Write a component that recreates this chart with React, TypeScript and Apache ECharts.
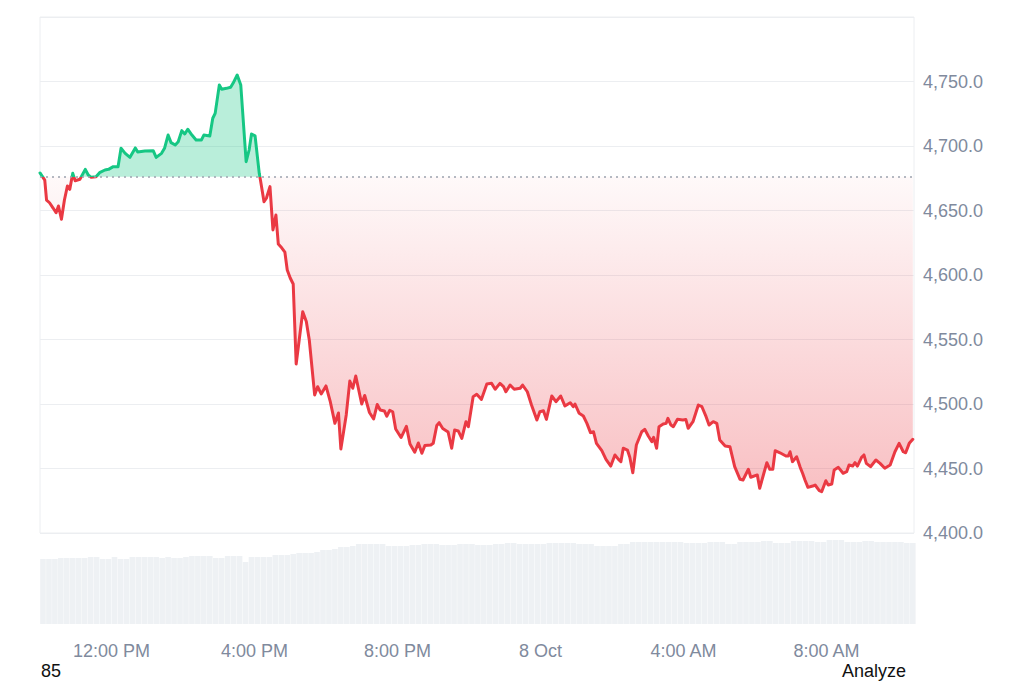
import React, { useEffect, useRef } from "react";
import * as echarts from "echarts";

// minutes since 7 Oct 00:00
const times = [
  600, 608, 611, 616, 622, 627, 631, 636, 641, 646, 650, 655, 659, 667, 670, 676, 681, 686, 694, 700,
  709, 715, 723, 731, 736, 743, 751, 760, 764, 776, 790, 795, 804, 809, 815, 820, 827, 832, 838, 843,
  848, 855, 862, 871, 875, 885, 890, 894, 901, 905, 913, 920, 924, 931, 937, 946, 951, 955, 961, 968,
  970, 976, 980, 986, 991, 996, 1000, 1006, 1011, 1015, 1020, 1025, 1030, 1041, 1047, 1052, 1061, 1066, 1072, 1080,
  1087, 1095, 1101, 1105, 1114, 1120, 1125, 1130, 1140, 1145, 1153, 1160, 1166, 1171, 1178, 1182, 1187, 1192, 1197, 1206,
  1215, 1221, 1229, 1235, 1241, 1246, 1256, 1260, 1266, 1270, 1276, 1285, 1291, 1296, 1302, 1308, 1315, 1319, 1327, 1333,
  1341, 1350, 1358, 1364, 1372, 1378, 1382, 1389, 1396, 1406, 1410, 1418, 1425, 1434, 1439, 1445, 1450, 1459, 1466, 1474,
  1481, 1490, 1495, 1498, 1505, 1512, 1518, 1524, 1529, 1534, 1543, 1550, 1558, 1565, 1571, 1575, 1579, 1586, 1590, 1595,
  1601, 1610, 1615, 1621, 1627, 1630, 1635, 1639, 1646, 1651, 1654, 1659, 1663, 1670, 1679, 1684, 1688, 1696, 1705, 1711,
  1718, 1723, 1730, 1736, 1741, 1750, 1758, 1766, 1775, 1780, 1789, 1793, 1804, 1808, 1815, 1820, 1825, 1830, 1834, 1842,
  1852, 1856, 1859, 1863, 1870, 1876, 1880, 1884, 1889, 1897, 1901, 1908, 1912, 1919, 1923, 1929, 1933, 1940, 1948, 1954,
  1958, 1964, 1968, 1972, 1979, 1983, 1987, 1994, 2003, 2010, 2018, 2027, 2035, 2042, 2049, 2053, 2059, 2065,
];

const prices = [
  4679.1, 4673.6, 4658.1, 4656.0, 4651.9, 4648.3, 4653.5, 4643.2, 4658.1, 4669.0, 4666.4, 4678.8, 4673.1, 4674.2, 4676.7, 4681.9, 4677.5, 4675.7, 4676.2, 4679.3,
  4681.4, 4681.9, 4684.0, 4684.0, 4698.2, 4694.3, 4691.2, 4698.5, 4695.3, 4696.1, 4696.4, 4691.2, 4694.3, 4698.2, 4708.5, 4702.6, 4700.8, 4703.3, 4711.9, 4709.3,
  4713.0, 4708.5, 4704.7, 4704.7, 4708.5, 4707.8, 4721.5, 4725.3, 4747.3, 4744.0, 4744.7, 4745.5, 4748.6, 4755.0, 4747.3, 4687.8, 4696.9, 4709.3, 4707.8, 4678.8,
  4673.6, 4656.8, 4659.5, 4668.5, 4634.9, 4646.5, 4624.0, 4620.9, 4617.8, 4603.9, 4597.7, 4593.0, 4531.0, 4571.5, 4564.0, 4549.6, 4507.0, 4513.4, 4507.8, 4514.0,
  4502.3, 4485.0, 4493.0, 4465.1, 4491.5, 4517.8, 4512.2, 4521.7, 4500.0, 4506.6, 4493.4, 4488.4, 4499.6, 4495.3, 4494.6, 4490.5, 4495.1, 4494.0, 4480.6, 4474.0,
  4482.7, 4469.0, 4462.6, 4469.8, 4461.8, 4467.8, 4468.2, 4469.5, 4483.3, 4485.5, 4481.0, 4478.3, 4465.7, 4479.8, 4479.1, 4473.4, 4486.3, 4482.4, 4505.7, 4507.5,
  4503.6, 4515.5, 4516.0, 4511.4, 4516.0, 4513.4, 4509.5, 4514.7, 4511.4, 4512.2, 4514.7, 4509.5, 4499.2, 4487.6, 4494.0, 4494.8, 4488.1, 4506.2, 4501.8, 4506.2,
  4498.5, 4501.0, 4497.9, 4500.0, 4492.8, 4490.7, 4485.0, 4477.8, 4478.5, 4469.5, 4463.8, 4457.1, 4451.9, 4460.5, 4457.1, 4455.3, 4465.7, 4464.3, 4458.7, 4446.7,
  4468.2, 4478.5, 4480.4, 4475.2, 4470.8, 4474.2, 4465.7, 4482.4, 4484.5, 4485.0, 4488.9, 4483.7, 4482.4, 4488.1, 4487.6, 4488.0, 4481.2, 4486.3, 4499.2, 4497.9,
  4490.2, 4483.7, 4486.3, 4485.0, 4472.1, 4467.4, 4466.9, 4451.4, 4441.6, 4441.1, 4449.4, 4443.2, 4445.0, 4434.7, 4446.3, 4454.5, 4449.4, 4449.4, 4463.8, 4462.2,
  4459.7, 4459.7, 4463.0, 4455.3, 4459.1, 4450.9, 4446.3, 4441.1, 4435.4, 4436.4, 4437.2, 4432.8, 4432.0, 4440.5, 4437.2, 4438.0, 4448.8, 4450.9, 4446.3, 4447.5,
  4452.7, 4451.9, 4454.5, 4451.9, 4458.7, 4460.5, 4454.0, 4451.4, 4456.6, 4454.0, 4450.2, 4452.7, 4463.0, 4469.5, 4463.0, 4462.2, 4469.5, 4472.6,
];

const baseline = 4676.2;

// 10-minute volume bars (arbitrary units)
const volumes = [
  65, 65, 65, 66, 66, 66, 66, 66, 67, 67, 65, 65, 67, 65, 65, 67, 67, 67, 67, 67,
  66, 67, 66, 66, 67, 68, 68, 68, 68, 66, 66, 68, 68, 68, 62, 67, 67, 67, 67, 69,
  69, 69, 70, 71, 71, 71, 72, 74, 74, 75, 77, 77, 78, 80, 80, 80, 80, 80, 78, 78,
  78, 78, 79, 79, 80, 80, 80, 79, 79, 79, 80, 80, 80, 79, 79, 79, 80, 80, 81, 81,
  80, 80, 80, 80, 80, 81, 81, 81, 81, 81, 80, 80, 80, 78, 78, 78, 78, 80, 80, 82,
  82, 82, 82, 82, 82, 82, 82, 82, 81, 81, 81, 81, 82, 82, 82, 80, 80, 82, 82, 82,
  82, 83, 83, 81, 81, 81, 83, 83, 83, 83, 82, 82, 84, 84, 84, 82, 82, 82, 83, 83,
  82, 82, 82, 82, 82, 81, 81,
];

const xTickValues = [720, 960, 1200, 1440, 1680, 1920];
const xTickLabels = ["12:00 PM", "4:00 PM", "8:00 PM", "8 Oct", "4:00 AM", "8:00 AM"];

const timeStart = 600;
const timeEnd = 2067;
const volStep = 10;
const yMin = 4400;
const yMax = 4800;
const yStep = 50;

const GREEN = "#16c784";
const RED = "#ea3943";
const LABEL = "#808a9d";
const GRIDLINE = "#eceef1";
const FONT = "'Liberation Sans', Arial, Helvetica, sans-serif";

export default function App() {
  const ref = useRef<HTMLDivElement>(null);

  useEffect(() => {
    if (!ref.current) return;
    const chart = echarts.init(ref.current, null, { renderer: "svg" });
    const n = Math.min(times.length, prices.length);
    const lineData = [] as number[][];
    const upData = [] as number[][];
    const downData = [] as number[][];
    for (let i = 0; i < n; i++) {
      lineData.push([times[i], prices[i]]);
      upData.push([times[i], Math.max(prices[i], baseline)]);
      downData.push([times[i], Math.min(prices[i], baseline)]);
    }
    const volData = volumes.map((v, i) => [timeStart + volStep * i + volStep / 2, v]);

    chart.setOption({
      animation: false,
      textStyle: { fontFamily: FONT },
      grid: [
        { left: 40, top: 17, width: 874, height: 516, show: true, borderColor: GRIDLINE, borderWidth: 1 },
        { left: 40, top: 533, width: 874, height: 91 },
      ],
      xAxis: [
        {
          type: "value",
          gridIndex: 0,
          min: timeStart,
          max: timeEnd,
          show: false,
        },
        {
          type: "value",
          gridIndex: 1,
          min: timeStart,
          max: timeEnd,
          axisLine: { show: false },
          axisTick: { show: false },
          splitLine: { show: false },
          axisLabel: {
            customValues: xTickValues,
            formatter: (v: number) => {
              const k = xTickValues.indexOf(v);
              return k >= 0 ? xTickLabels[k] : "";
            },
            color: LABEL,
            fontSize: 18,
            fontFamily: FONT,
            margin: 18,
          },
        },
      ],
      yAxis: [
        {
          type: "value",
          gridIndex: 0,
          position: "right",
          min: yMin,
          max: yMax,
          interval: yStep,
          axisLine: { show: false },
          axisTick: { show: false },
          splitLine: { lineStyle: { color: GRIDLINE, width: 1 } },
          axisLabel: {
            showMaxLabel: false,
            color: LABEL,
            fontSize: 18,
            fontFamily: FONT,
            margin: 9,
            formatter: (v: number) =>
              v.toLocaleString("en-US", { minimumFractionDigits: 1, maximumFractionDigits: 1 }),
          },
        },
        {
          type: "value",
          gridIndex: 1,
          min: 0,
          max: 91,
          show: false,
        },
      ],
      visualMap: [
        {
          type: "piecewise",
          show: false,
          seriesIndex: 3,
          dimension: 1,
          pieces: [
            { min: 0, max: baseline, color: RED },
            { min: baseline, max: 100000, color: GREEN },
          ],
        },
      ],
      series: [
        {
          type: "bar",
          xAxisIndex: 1,
          yAxisIndex: 1,
          data: volData,
          barWidth: 5.6,
          itemStyle: { color: "#eef1f4" },
          silent: true,
        },
        {
          type: "line",
          xAxisIndex: 0,
          yAxisIndex: 0,
          data: upData,
          showSymbol: false,
          symbol: "none",
          lineStyle: { width: 0 },
          areaStyle: { origin: baseline, color: "rgba(22,199,132,0.3)", opacity: 1 },
          silent: true,
          z: 2,
        },
        {
          type: "line",
          xAxisIndex: 0,
          yAxisIndex: 0,
          data: downData,
          showSymbol: false,
          symbol: "none",
          lineStyle: { width: 0 },
          areaStyle: {
            origin: baseline,
            opacity: 1,
            color: {
              type: "linear",
              x: 0,
              y: 0,
              x2: 0,
              y2: 1,
              colorStops: [
                { offset: 0, color: "rgba(234,57,67,0.03)" },
                { offset: 1, color: "rgba(234,57,67,0.32)" },
              ],
            },
          },
          silent: true,
          z: 2,
          markLine: {
            silent: true,
            symbol: ["none", "none"],
            label: { show: false },
            lineStyle: { type: [2, 4], color: "#9ca3af", width: 1.5 },
            data: [{ yAxis: baseline }],
          },
        },
        {
          type: "line",
          xAxisIndex: 0,
          yAxisIndex: 0,
          data: lineData,
          showSymbol: false,
          symbol: "none",
          lineStyle: { width: 3, join: "round", cap: "round" },
          silent: true,
          z: 4,
        },
      ],
      graphic: [
        {
          type: "text",
          left: 41,
          top: 662,
          style: { text: "85", fill: "#111", font: `18px ${FONT}` },
        },
        {
          type: "text",
          right: 118,
          top: 662,
          style: { text: "Analyze", fill: "#111", font: `18px ${FONT}` },
        },
      ],
    });

    return () => chart.dispose();
  }, []);

  return (
    <div
      ref={ref}
      style={{ position: "absolute", left: 0, top: 0, width: 1024, height: 683, background: "#fff" }}
    />
  );
}
